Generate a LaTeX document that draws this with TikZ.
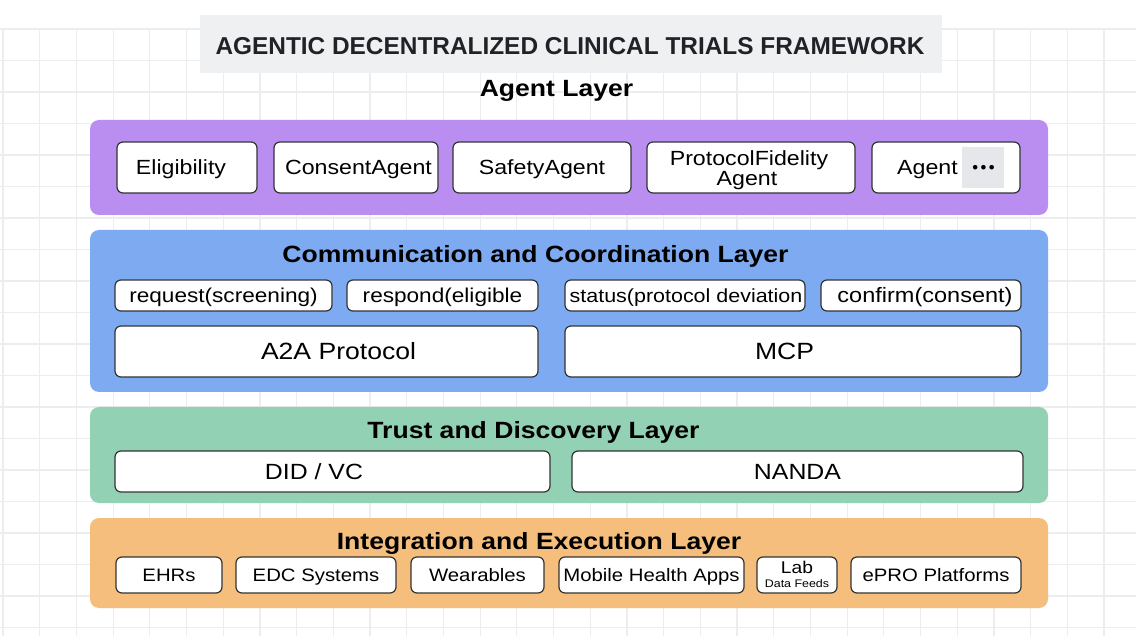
\documentclass[tikz,border=0pt]{standalone}
\usepackage{fontspec}
\setmainfont{Liberation Sans}[FakeStretch=1.13]
\newfontfamily\titlefont{Liberation Sans}
\newfontfamily\symfont{DejaVu Sans}
\definecolor{gridc}{HTML}{EDEDED}
\definecolor{titlebg}{HTML}{EEF0F2}
\definecolor{titletext}{HTML}{1F2328}
\definecolor{purp}{HTML}{B98EF0}
\definecolor{blu}{HTML}{7EAAF1}
\definecolor{grn}{HTML}{93D1B4}
\definecolor{orng}{HTML}{F5BE7D}
\definecolor{cellline}{HTML}{333333}
\definecolor{dotbg}{HTML}{E5E7EB}
\begin{document}
\begin{tikzpicture}[x=1pt,y=-1pt,
  layerbox/.style={rounded corners=9pt, inner sep=0pt, draw=none},
  cell/.style={draw=cellline, fill=white, rounded corners=6pt, line width=1.2pt,
    inner sep=0pt, text depth=0pt, text=black},
  agentcell/.style={cell, minimum height=51pt, text height=14.7pt, font=\fontsize{20.5}{22}\selectfont},
  msgcell/.style={cell, minimum height=31pt, text height=14.3pt, font=\fontsize{20}{22}\selectfont},
  bigcell/.style={cell, minimum height=51pt, text height=16.8pt, font=\fontsize{23.5}{26}\selectfont},
  trustcell/.style={cell, minimum height=41pt, text height=15.8pt, font=\fontsize{22}{24}\selectfont},
  intcell/.style={cell, minimum height=36pt, text height=12.9pt, font=\fontsize{18}{20}\selectfont},
  layertitle/.style={inner sep=0pt, text height=16.8pt, text depth=0pt,
    font=\bfseries\fontsize{23.5}{26}\selectfont, text=black},
  plain/.style={inner sep=0pt, text depth=0pt, text=black}
]
\useasboundingbox (0,0) rectangle (1136,636);
\fill[white] (0,0) rectangle (1136,636);
% grid
\foreach \i in {0,...,30} \draw[gridc, line width=1.2pt] (3+36.7*\i,29) -- (3+36.7*\i,636);
\foreach \j in {0,...,19} \draw[gridc, line width=1.2pt] (0,29+31.5*\j) -- (1136,29+31.5*\j);

% title
\node[fill=titlebg, minimum width=742pt, minimum height=58pt, inner sep=0pt] (titlebox) at (571,44) {};
\node[plain, text height=17.5pt, text=titletext, font=\titlefont\bfseries\fontsize{24.4}{26}\selectfont] (title) at (570,46) {AGENTIC DECENTRALIZED CLINICAL TRIALS FRAMEWORK};

% Agent layer
\node[layertitle] (agenttitle) at (556.5,88.5) {Agent Layer};
\node[layerbox, fill=purp, minimum width=958pt, minimum height=95pt] (agentlayer) at (569,167.5) {};
\node[agentcell, minimum width=140pt] (elig) at (187,167.5) {\hspace*{-12pt}Eligibility};
\node[agentcell, minimum width=164pt] (consent) at (356,167.5) {\hspace*{5pt}ConsentAgent};
\node[agentcell, minimum width=178pt] (safety) at (542,167.5) {SafetyAgent};
\node[agentcell, minimum width=208pt] (protocol) at (751,167.5) {};
\node[plain, text height=14.7pt, font=\fontsize{20.5}{22}\selectfont] (protocolA) at (749,158) {ProtocolFidelity};
\node[plain, text height=14.7pt, font=\fontsize{20.5}{22}\selectfont] (protocolB) at (747,178) {Agent};
\node[agentcell, minimum width=148pt] (agentx) at (946,167.5) {};
\node[plain, text height=14.7pt, font=\fontsize{20.5}{22}\selectfont] (agentxlabel) at (927.5,167.5) {Agent};
\node[fill=dotbg, minimum width=42pt, minimum height=41pt, inner sep=0pt] (dotsbox) at (983,168) {};
\node[inner sep=0pt, font=\symfont\bfseries\fontsize{13}{13}\selectfont] (dots) at (983.5,168.5) {•••};

% Communication layer
\node[layerbox, fill=blu, minimum width=958pt, minimum height=162pt] (commlayer) at (569,311) {};
\node[layertitle] (commtitle) at (535.5,254) {Communication and Coordination Layer};
\node[msgcell, minimum width=217pt] (req) at (223.5,295.5) {request(screening)};
\node[msgcell, minimum width=191pt] (resp) at (442.5,295.5) {respond(eligible};
\node[msgcell, minimum width=240pt, text height=13.6pt, font=\fontsize{19}{21}\selectfont] (status) at (685,295.5) {\hspace*{2pt}status(protocol deviation};
\node[msgcell, minimum width=200pt, text height=14.9pt, font=\fontsize{20.8}{22}\selectfont] (confirm) at (921,295.5) {\hspace*{8pt}confirm(consent)};
\node[bigcell, minimum width=423pt] (a2a) at (326.5,351.5) {\hspace*{24pt}A2A Protocol};
\node[bigcell, minimum width=456pt] (mcp) at (793,351.5) {\hspace*{-17pt}MCP};

% Trust layer
\node[layerbox, fill=grn, minimum width=958pt, minimum height=96pt] (trustlayer) at (569,455) {};
\node[layertitle] (trusttitle) at (533.5,430) {Trust and Discovery Layer};
\node[trustcell, minimum width=435pt] (did) at (332.5,471.5) {\hspace*{-37pt}DID / VC};
\node[trustcell, minimum width=451pt] (nanda) at (797.5,471.5) {NANDA};

% Integration layer
\node[layerbox, fill=orng, minimum width=958pt, minimum height=90pt] (intlayer) at (569,563) {};
\node[layertitle] (inttitle) at (539,541) {Integration and Execution Layer};
\node[intcell, minimum width=106pt] (ehr) at (169,575) {EHRs};
\node[intcell, minimum width=160pt] (edc) at (316,575) {EDC Systems};
\node[intcell, minimum width=133pt] (wear) at (477.5,575) {Wearables};
\node[intcell, minimum width=185pt] (mobile) at (651.5,575) {Mobile Health Apps};
\node[intcell, minimum width=80pt] (lab) at (797,575) {};
\node[plain, text height=12.2pt, font=\fontsize{17}{18}\selectfont] (labtop) at (797,567.5) {Lab};
\node[plain, text height=7.9pt, font=\fontsize{11}{12}\selectfont] (labbottom) at (797,584) {Data Feeds};
\node[intcell, minimum width=170pt] (epro) at (936,575) {ePRO Platforms};
\end{tikzpicture}
\end{document}
